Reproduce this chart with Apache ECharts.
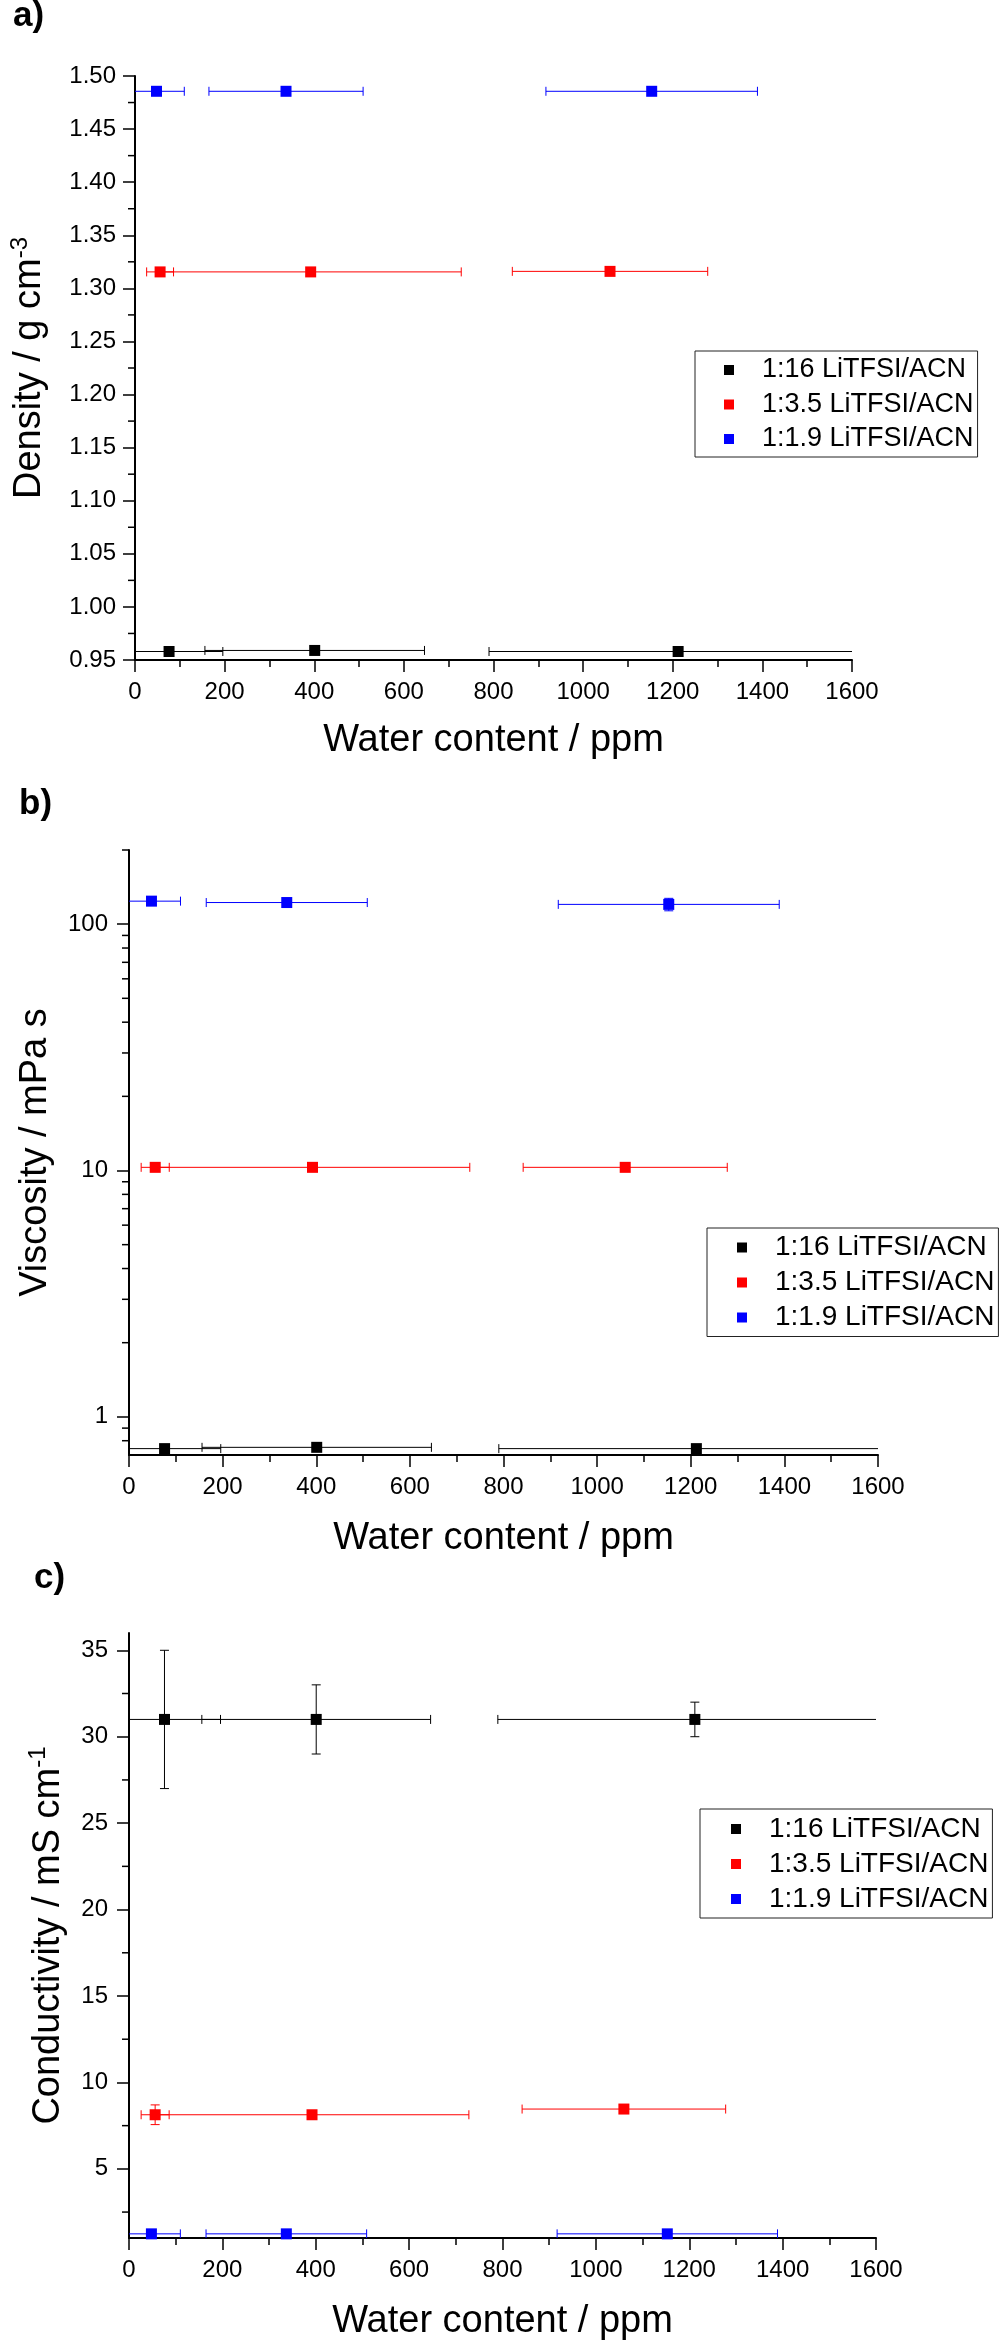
<!DOCTYPE html>
<html lang="en">
<head>
<meta charset="UTF-8">
<title>LiTFSI/ACN vs water content</title>
<script src="https://cdn.jsdelivr.net/npm/echarts@6/dist/echarts.min.js"></script>
<style>
    html, body { margin: 0; padding: 0; background: #fff; }
</style>
</head>
<body>
<div id="main" style="width: 1000px;height:2343px;"></div>
<script>
    // ---- data ----
    var seriesNames = ['1:16 LiTFSI/ACN', '1:3.5 LiTFSI/ACN', '1:1.9 LiTFSI/ACN'];

    // water content (ppm) and its error bar, one row per electrolyte
    var water    = [[76, 401, 1212], [56, 392, 1060], [48, 337, 1153]];
    var waterErr = [[120, 245, 422], [30, 336, 218], [62, 172, 236]];

    var density    = [[0.958, 0.959, 0.958], [1.3155, 1.3155, 1.316], [1.4856, 1.4856, 1.4856]];
    var densityErr = [[0, 0, 0], [0, 0, 0], [0, 0, 0]];

    var viscosity    = [[0.743, 0.752, 0.743], [10.3, 10.3, 10.3], [124, 122.4, 120.3]];
    var viscosityErr = [[0, 0, 0], [0, 0, 0], [0, 0, 7]];

    var conductivity    = [[31, 31, 31], [8.13, 8.13, 8.46], [1.24, 1.24, 1.24]];
    var conductivityErr = [[4, 2, 1], [0.57, 0, 0], [0, 0, 0]];

    // tick values
    var densityTicks = [0.95, 1.00, 1.05, 1.10, 1.15, 1.20, 1.25, 1.30, 1.35, 1.40, 1.45, 1.50];
    var densityMinor = [0.975, 1.025, 1.075, 1.125, 1.175, 1.225, 1.275, 1.325, 1.375, 1.425, 1.475];
    var viscosityMinor = [0.8, 0.9, 2, 3, 4, 5, 6, 7, 8, 9, 20, 30, 40, 50, 60, 70, 80, 90, 200];
    var conductivityTicks = [5, 10, 15, 20, 25, 30, 35];
    var conductivityMinor = [2.5, 7.5, 12.5, 17.5, 22.5, 27.5, 32.5];

    // ---- styling ----
    var colors = ['#000000', '#ff0000', '#0000ff'];
    var font = 'Liberation Sans, Arial, sans-serif';

    var panels = [
        {label: 'a)', labelPos: [13, -1], grid: {left: 129, top: 76, width: 723, height: 584},
         yName: 'Density / g cm{sup|-3}', yGap: 83, xGap: 62,
         y: density, yErr: densityErr, minor: densityMinor,
         legend: {left: 695, top: 351, padding: [5.5, 4, 4.5, 29], itemGap: 7.5, fontSize: 27}},
        {label: 'b)', labelPos: [19, 787], grid: {left: 129, top: 850, width: 749, height: 605},
         yName: 'Viscosity / mPa s', yGap: 66, xGap: 65,
         y: viscosity, yErr: viscosityErr, minor: viscosityMinor,
         legend: {left: 707, top: 1228, padding: [5.5, 4, 5, 30], itemGap: 7, fontSize: 28}},
        {label: 'c)', labelPos: [34, 1561], grid: {left: 129, top: 1633, width: 747, height: 605},
         yName: 'Conductivity / mS cm{sup|-1}', yGap: 52, xGap: 65,
         y: conductivity, yErr: conductivityErr, minor: conductivityMinor,
         legend: {left: 700, top: 1809, padding: [6, 4, 5, 31], itemGap: 7, fontSize: 28}}
    ];

    function errorBarRenderer(color) {
        return function (params, api) {
            var x = api.value(0), y = api.value(1), dx = api.value(2), dy = api.value(3);
            var cap = 4.5;
            var l = api.coord([x - dx, y]);
            var r = api.coord([x + dx, y]);
            var kids = [
                {type: 'line', shape: {x1: l[0], y1: l[1], x2: r[0], y2: r[1]}},
                {type: 'line', shape: {x1: l[0], y1: l[1] - cap, x2: l[0], y2: l[1] + cap}},
                {type: 'line', shape: {x1: r[0], y1: r[1] - cap, x2: r[0], y2: r[1] + cap}}
            ];
            if (dy > 0) {
                var t = api.coord([x, y + dy]);
                var b = api.coord([x, y - dy]);
                kids.push({type: 'line', shape: {x1: t[0], y1: t[1], x2: b[0], y2: b[1]}});
                kids.push({type: 'line', shape: {x1: t[0] - cap, y1: t[1], x2: t[0] + cap, y2: t[1]}});
                kids.push({type: 'line', shape: {x1: b[0] - cap, y1: b[1], x2: b[0] + cap, y2: b[1]}});
            }
            kids.forEach(function (k) { k.style = {stroke: color, lineWidth: 1}; });
            return {type: 'group', children: kids};
        };
    }

    // small outward minor ticks on the y axis
    function minorTickRenderer(params, api) {
        var p = api.coord([0, api.value(1)]);
        return {type: 'line', shape: {x1: p[0] - 7, y1: p[1], x2: p[0], y2: p[1]},
                style: {stroke: '#000', lineWidth: 1.5}};
    }

    var axisLineStyle = {color: '#000', width: 2};
    var tickStyle = {color: '#000', width: 1.5};

    var option = {
        animation: false,
        backgroundColor: '#fff',
        textStyle: {fontFamily: font, color: '#000'},
        title: [], grid: [], xAxis: [], yAxis: [], legend: [], series: []
    };

    panels.forEach(function (p, i) {
        option.title.push({text: p.label, left: p.labelPos[0], top: p.labelPos[1], padding: 0,
            textStyle: {fontSize: 35, fontWeight: 'bold', color: '#000', fontFamily: font}});
        option.grid.push(p.grid);

        option.xAxis.push({
            gridIndex: i, type: 'value', min: 0, max: 1600, interval: 200,
            name: 'Water content / ppm', nameLocation: 'middle', nameGap: p.xGap,
            nameTextStyle: {fontSize: 38, color: '#000', fontFamily: font},
            axisLine: {onZero: false, lineStyle: axisLineStyle},
            axisTick: {length: 12, lineStyle: tickStyle},
            minorTick: {show: true, splitNumber: 2, length: 7, lineStyle: tickStyle},
            axisLabel: {fontSize: 24, color: '#000', margin: 20, fontFamily: font,
                formatter: function (v) { return String(v); }},
            splitLine: {show: false}
        });

        var yAxis = {
            gridIndex: i,
            name: p.yName, nameLocation: 'middle', nameGap: p.yGap,
            nameTextStyle: {fontSize: 38, lineHeight: 44, color: '#000', fontFamily: font,
                rich: {sup: {fontSize: 24, lineHeight: 14, verticalAlign: 'top', color: '#000', fontFamily: font}}},
            axisLine: {onZero: false, lineStyle: axisLineStyle},
            axisTick: {length: 12, lineStyle: tickStyle},
            axisLabel: {fontSize: 24, color: '#000', margin: 19, fontFamily: font},
            splitLine: {show: false}
        };
        if (i === 0) {
            yAxis.type = 'value'; yAxis.min = 0.95; yAxis.max = 1.50;
            yAxis.axisTick.customValues = densityTicks;
            yAxis.axisLabel.customValues = densityTicks;
            yAxis.axisLabel.formatter = function (v) { return (+v).toFixed(2); };
        } else if (i === 1) {
            yAxis.type = 'log'; yAxis.logBase = 10; yAxis.min = 0.7; yAxis.max = 200;
            yAxis.axisLabel.showMinLabel = false;
            yAxis.axisLabel.showMaxLabel = false;
            yAxis.axisLabel.margin = 21;
        } else {
            yAxis.type = 'value'; yAxis.min = 1; yAxis.max = 36;
            yAxis.axisTick.customValues = conductivityTicks;
            yAxis.axisLabel.customValues = conductivityTicks;
            yAxis.axisLabel.margin = 21;
        }
        option.yAxis.push(yAxis);

        option.legend.push({
            orient: 'vertical', left: p.legend.left, top: p.legend.top,
            padding: p.legend.padding, itemGap: p.legend.itemGap,
            itemWidth: 10, itemHeight: 10, icon: 'rect',
            borderColor: '#222', borderWidth: 1, borderRadius: 0,
            textStyle: {fontSize: p.legend.fontSize, lineHeight: p.legend.fontSize, color: '#000',
                fontFamily: font, padding: [0, 0, 0, 23]},
            data: seriesNames
        });

        // minor ticks on the y axis
        option.series.push({
            type: 'custom', name: 'minor-' + i, xAxisIndex: i, yAxisIndex: i,
            silent: true, clip: false, z: 3,
            data: p.minor.map(function (v) { return [0, v]; }),
            encode: {x: 0, y: 1},
            renderItem: minorTickRenderer
        });

        seriesNames.forEach(function (name, k) {
            var rows = water[k].map(function (w, j) {
                return [w, p.y[k][j], waterErr[k][j], p.yErr[k][j]];
            });
            option.series.push({
                type: 'custom', name: 'err-' + i + '-' + k, xAxisIndex: i, yAxisIndex: i,
                silent: true, clip: true, z: 2,
                data: rows, encode: {x: 0, y: 1},
                renderItem: errorBarRenderer(colors[k])
            });
            option.series.push({
                type: 'scatter', name: name, xAxisIndex: i, yAxisIndex: i,
                symbol: 'rect', symbolSize: 11, z: 4,
                itemStyle: {color: colors[k], opacity: 1},
                data: rows.map(function (r) { return [r[0], r[1]]; })
            });
        });
    });

    var myChart = echarts.init(document.getElementById('main'));
    myChart.setOption(option);
</script>
</body>
</html>
